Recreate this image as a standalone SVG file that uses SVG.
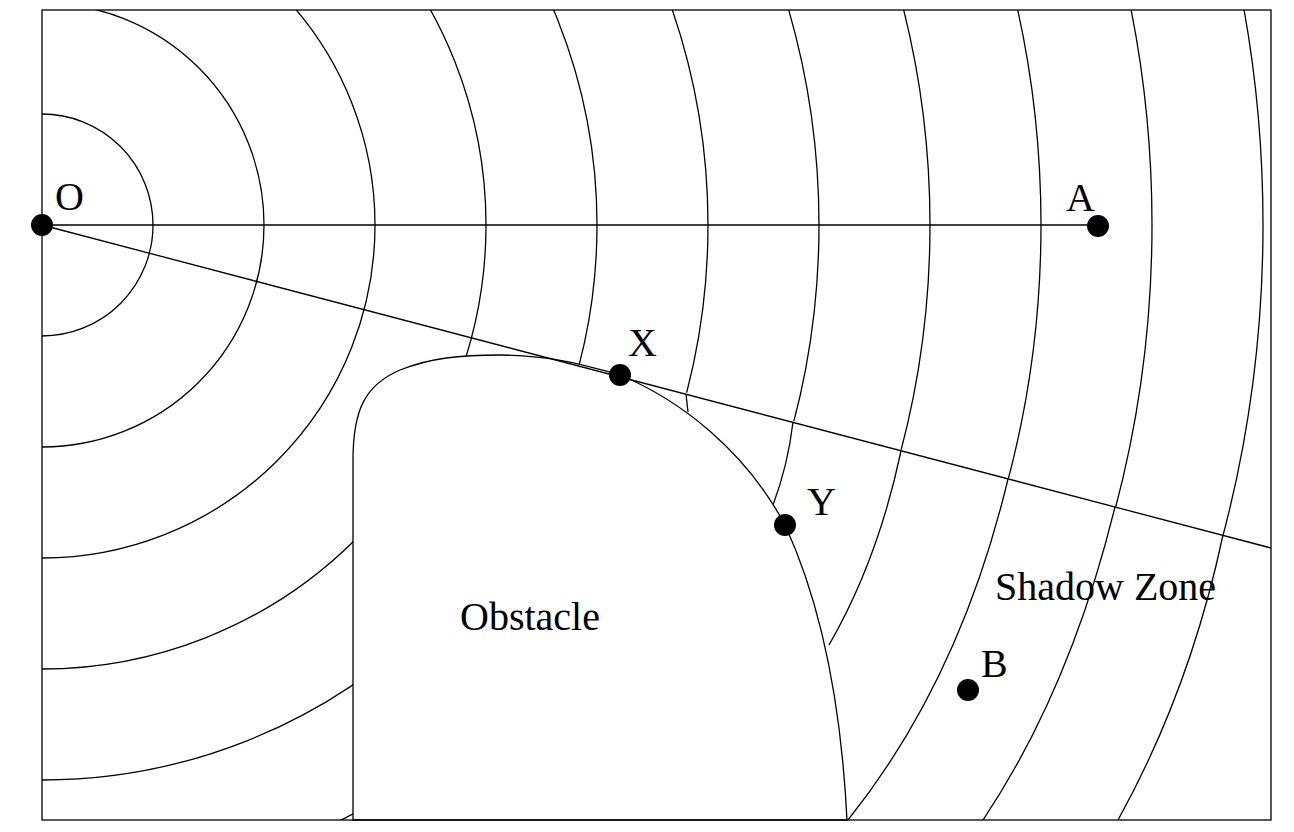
<svg xmlns="http://www.w3.org/2000/svg" width="1294" height="832" viewBox="0 0 1294 832">
<style>
.l{fill:none;stroke:#000;stroke-width:1.3}
.t{font-family:"Liberation Serif",serif;font-size:40px;fill:#000}
</style>
<defs>
<clipPath id="main"><path d="M42,10 H1271 V548 L620,375 V820 H42 Z"/></clipPath>
<clipPath id="frame"><rect x="42" y="10" width="1229" height="810"/></clipPath>
</defs>
<rect x="0" y="0" width="1294" height="832" fill="#fff"/>
<g id="wavefronts" class="l" clip-path="url(#frame)">
<g clip-path="url(#main)">
<circle cx="42" cy="225" r="111"/><circle cx="42" cy="225" r="222"/><circle cx="42" cy="225" r="333"/>
<circle cx="42" cy="225" r="444"/><circle cx="42" cy="225" r="555"/><circle cx="42" cy="225" r="666"/>
<circle cx="42" cy="225" r="777"/><circle cx="42" cy="225" r="888"/><circle cx="42" cy="225" r="999"/>
<circle cx="42" cy="225" r="1110"/><circle cx="42" cy="225" r="1221"/>
</g>
<path d="M686,394 L688,412"/>
<path d="M793,422 Q788,465 773,505"/>
<path d="M901,451 Q878,560 829,645"/>
<path d="M1008,479 Q960,680 848,820"/>
<path d="M1115,507 Q1070,690 983,820"/>
<path d="M1223,535 Q1190,690 1118,820"/>
</g>
<g id="obstacle">
<path class="l" style="fill:#fff" d="M353,820 L353,460 C353,410 365,385 400,370 C430,358 460,355 500,355 C560,356 590,367 620,375 C680,400 745,450 785,525 C815,590 840,680 847,820 Z"/>
<text class="t" x="460" y="630">Obstacle</text>
</g>
<g id="connectors" class="l">
<line x1="42" y1="225" x2="1098" y2="225"/>
<line x1="42" y1="225" x2="1271" y2="548"/>
</g>
<rect class="l" x="42" y="10" width="1229" height="810"/>
<g id="O"><circle cx="42" cy="225" r="11"/><text class="t" x="55" y="210">O</text></g>
<g id="A"><circle cx="1098" cy="226" r="11"/><text class="t" x="1066" y="211">A</text></g>
<g id="X"><circle cx="620" cy="375" r="11"/><text class="t" x="628" y="356">X</text></g>
<g id="Y"><circle cx="785" cy="525" r="11"/><text class="t" x="807" y="515">Y</text></g>
<g id="B"><circle cx="968" cy="690" r="11"/><text class="t" x="981" y="677">B</text></g>
<g id="shadow"><text class="t" x="995" y="600">Shadow Zone</text></g>
</svg>
